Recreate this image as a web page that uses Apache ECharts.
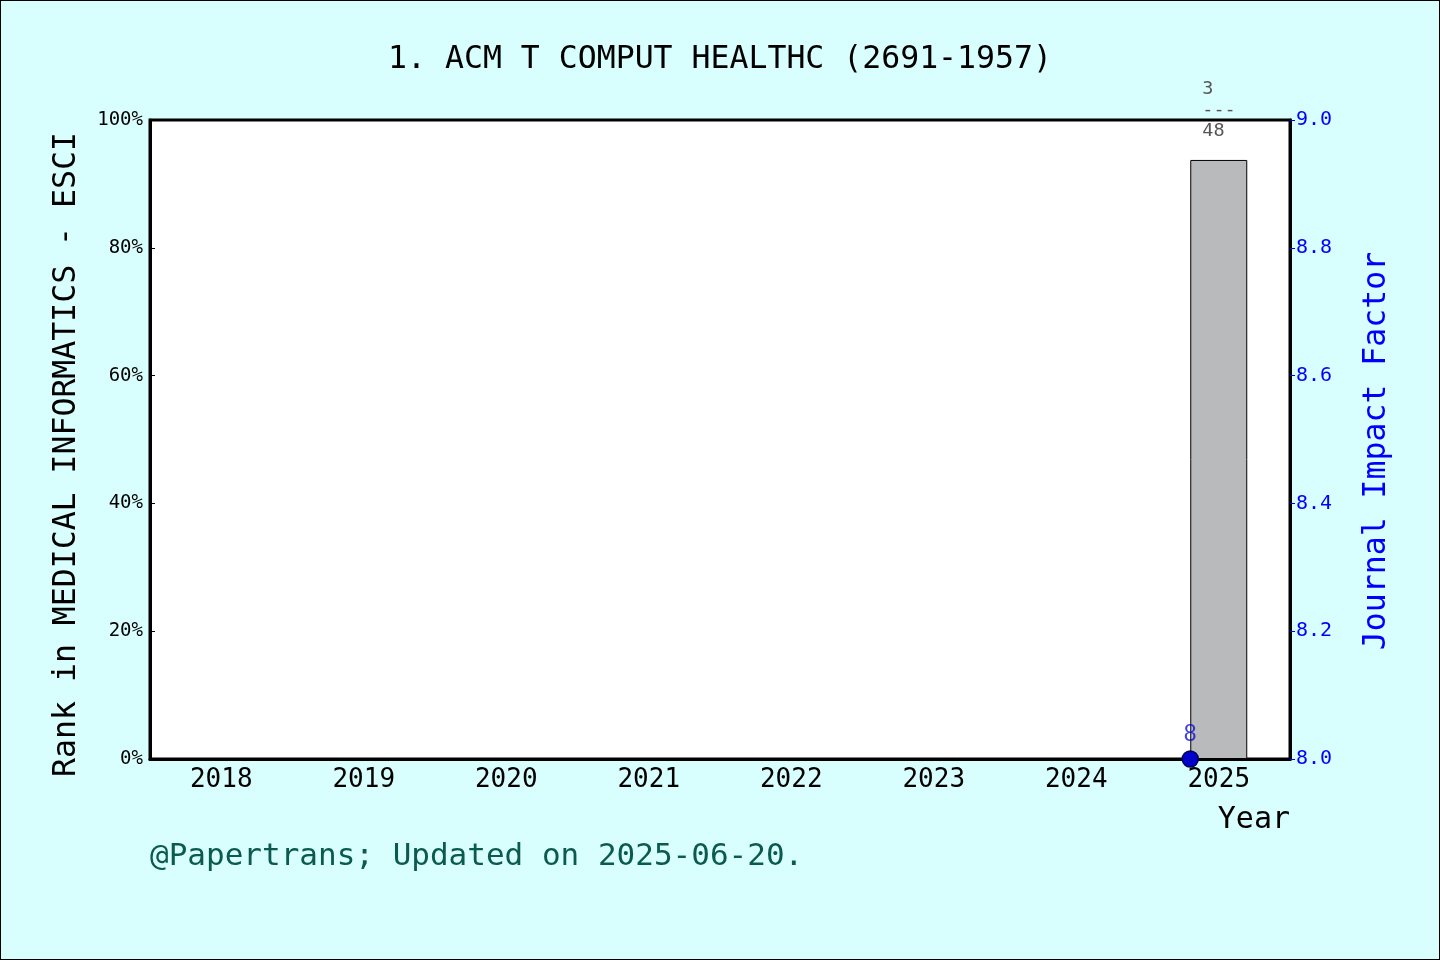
<!DOCTYPE html>
<html>
<head>
<meta charset="utf-8">
<script src="https://cdn.jsdelivr.net/npm/echarts@6/dist/echarts.min.js"></script>
<style>
  html, body { margin: 0; padding: 0; }
  #chart { width: 1440px; height: 960px; box-sizing: border-box; border: 1px solid #000; }
</style>
</head>
<body>
<div id="chart"></div>
<script>
// data
const years = ['2018', '2019', '2020', '2021', '2022', '2023', '2024', '2025']
const rankInCategory = [null, null, null, null, null, null, null, 3]
const journalsInCategory = [null, null, null, null, null, null, null, 48]
const impactFactor = [null, null, null, null, null, null, null, 8]
const leftTicks = [0, 20, 40, 60, 80, 100]
const rightTicks = [8.0, 8.2, 8.4, 8.6, 8.8, 9.0]

const MONO = '"DejaVu Sans Mono", "Liberation Mono", monospace'

// bar height = share of journals ranked below this one
const rankShare = rankInCategory.map((r, i) =>
  r == null ? null : (journalsInCategory[i] - r) / journalsInCategory[i] * 100
)

const chart = echarts.init(document.getElementById('chart'))

const option = {
  backgroundColor: '#d8fefe',
  animation: false,
  title: {
    text: '1. ACM T COMPUT HEALTHC (2691-1957)',
    left: 'center',
    top: 38,
    textStyle: { fontFamily: MONO, fontSize: 31.5, fontWeight: 'normal', color: '#000' }
  },
  grid: {
    left: 149, right: 149, top: 119, bottom: 200,
    show: true, backgroundColor: '#fff', borderColor: '#000', borderWidth: 3
  },
  graphic: [{
    type: 'text',
    left: 149,
    top: 840,
    style: {
      text: '@Papertrans; Updated on 2025-06-20.',
      font: '31px ' + MONO,
      fill: '#0b5a50'
    }
  }],
  xAxis: {
    type: 'category',
    data: years,
    name: 'Year',
    nameLocation: 'end',
    nameGap: 0,
    nameTextStyle: {
      fontFamily: MONO, fontSize: 30, color: '#000',
      align: 'right', verticalAlign: 'top', padding: [46, 0, 0, 0]
    },
    axisLine: { lineStyle: { color: '#000', width: 3 } },
    axisTick: { inside: true, length: 6, lineStyle: { color: '#000', width: 1 } },
    axisLabel: { fontFamily: MONO, fontSize: 26, color: '#000', margin: 8 },
    splitLine: { show: false }
  },
  yAxis: [
    {
      type: 'value',
      min: leftTicks[0],
      max: leftTicks[leftTicks.length - 1],
      interval: leftTicks[1] - leftTicks[0],
      name: 'Rank in MEDICAL INFORMATICS - ESCI',
      nameLocation: 'middle',
      nameGap: 67,
      nameTextStyle: { fontFamily: MONO, fontSize: 31.5, color: '#000', padding: [0, 30, 0, 0] },
      axisLine: { show: true, lineStyle: { color: '#000', width: 3 } },
      axisTick: { show: true, inside: true, length: 5, lineStyle: { color: '#000', width: 1 } },
      axisLabel: { fontFamily: MONO, fontSize: 19, color: '#000', margin: 7, formatter: '{value}%' },
      splitLine: { show: false }
    },
    {
      type: 'value',
      min: rightTicks[0],
      max: rightTicks[rightTicks.length - 1],
      interval: 0.2,
      position: 'right',
      name: 'Journal Impact Factor',
      nameLocation: 'middle',
      nameGap: 71,
      nameTextStyle: { fontFamily: MONO, fontSize: 31.5, color: '#0000ff', padding: [0, 23, 0, 0] },
      axisLine: { show: true, lineStyle: { color: '#000', width: 3 } },
      axisTick: { show: true, inside: false, length: 5, lineStyle: { color: '#0000ff', width: 1 } },
      axisLabel: {
        fontFamily: MONO, fontSize: 20, color: '#0000ff', margin: 6,
        formatter: v => v.toFixed(1)
      },
      splitLine: { show: false }
    }
  ],
  series: [
    {
      name: 'Rank',
      type: 'bar',
      yAxisIndex: 0,
      barWidth: '40%',
      data: rankShare,
      itemStyle: { color: '#b9babc', borderColor: '#000', borderWidth: 1 },
      label: {
        show: true,
        position: 'top',
        distance: 18,
        offset: [-16.5, 0],
        fontFamily: MONO,
        fontSize: 18.5,
        lineHeight: 21,
        color: '#555',
        align: 'left',
        formatter: p => rankInCategory[p.dataIndex] + '\n---\n' + journalsInCategory[p.dataIndex]
      }
    },
    {
      name: 'Impact Factor',
      type: 'line',
      yAxisIndex: 1,
      data: impactFactor,
      connectNulls: true,
      symbol: 'circle',
      symbolSize: 16,
      symbolOffset: [-28.5, 0],
      lineStyle: { color: '#0000cc', width: 2 },
      itemStyle: { color: '#0000cc', borderColor: '#000055', borderWidth: 1.5 },
      z: 5,
      label: {
        show: true,
        position: 'top',
        distance: 4,
        fontFamily: '"Liberation Sans", Arial, sans-serif',
        fontSize: 23,
        color: 'rgba(0,0,220,0.75)'
      }
    }
  ]
}

chart.setOption(option)
</script>
</body>
</html>
